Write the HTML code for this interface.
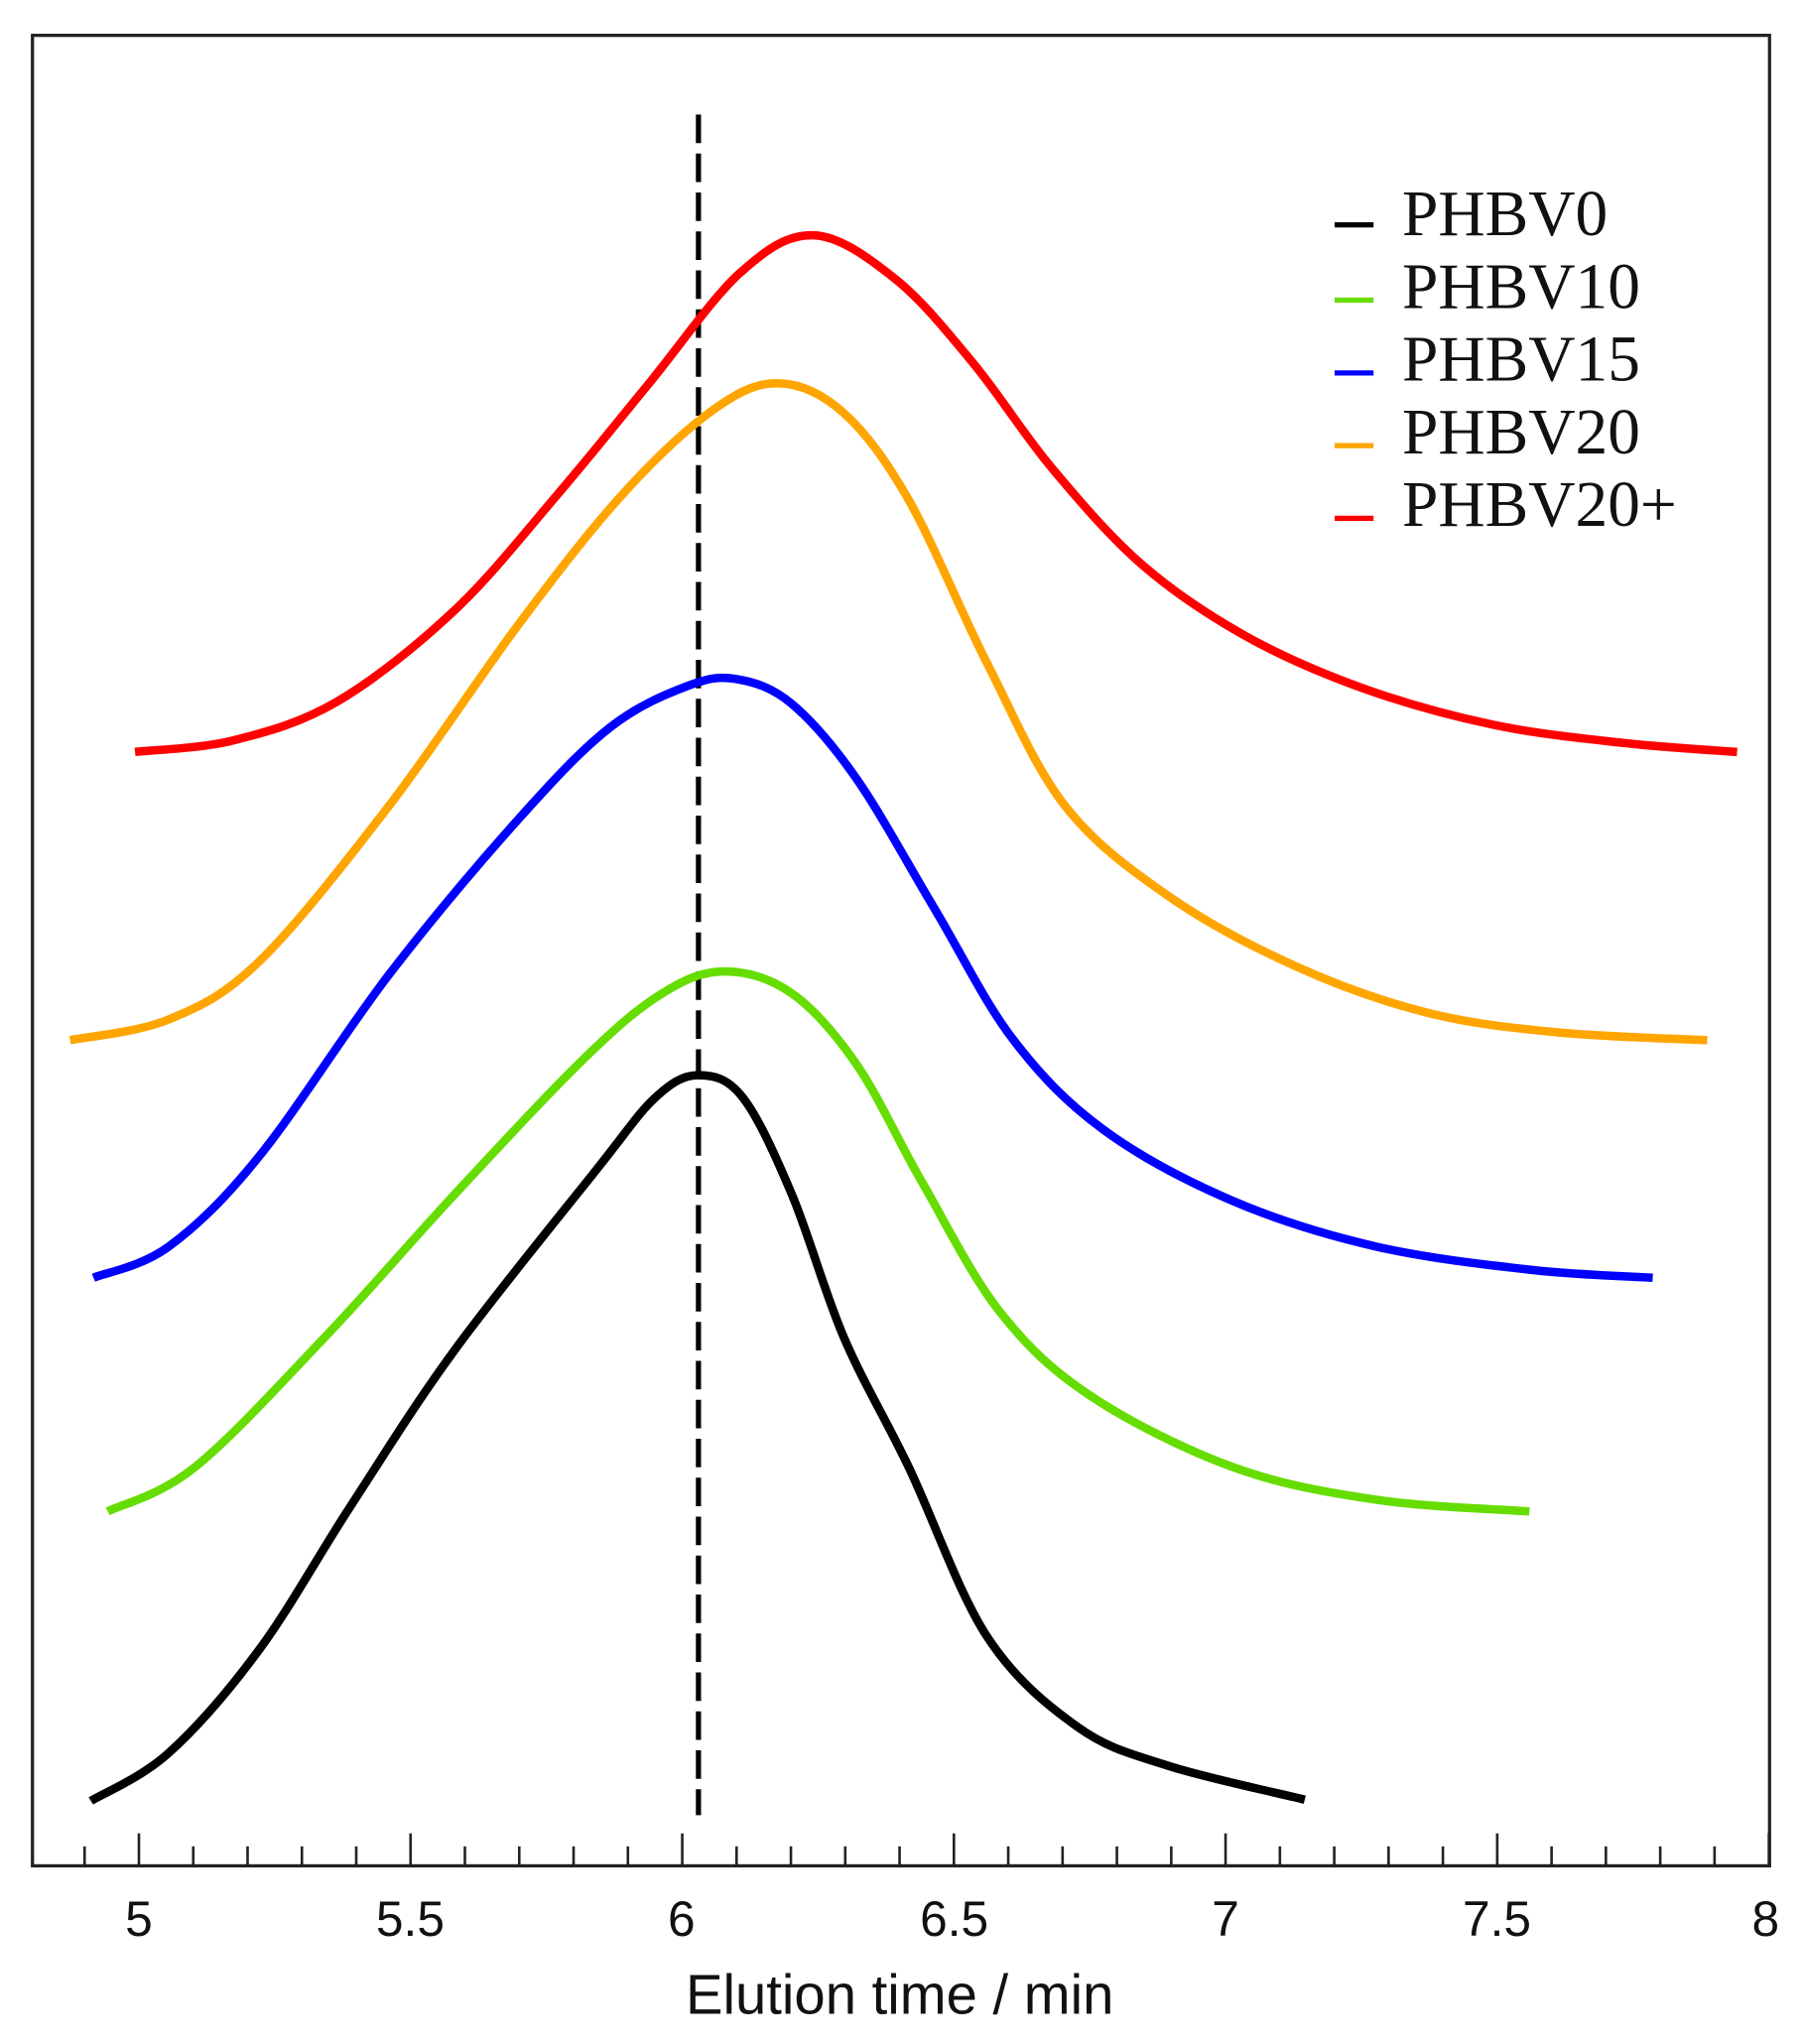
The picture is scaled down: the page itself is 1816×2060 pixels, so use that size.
<!DOCTYPE html>
<html><head><meta charset="utf-8"><style>html,body{margin:0;padding:0;background:#fff}svg{display:block}</style></head>
<body>
<svg id="s" width="1816" height="2060" viewBox="0 0 1388 1574" xmlns="http://www.w3.org/2000/svg">
<rect x="25" y="27" width="1338" height="1410" fill="none" stroke="#222" stroke-width="2.5"/>
<g id="ticks" stroke="#222" stroke-width="2"></g>
<g font-family="Liberation Sans, sans-serif" font-size="38" fill="#111" text-anchor="middle">
<text x="107" y="1491">5</text><text x="316" y="1491">5.5</text><text x="525" y="1491">6</text>
<text x="735" y="1491">6.5</text><text x="944" y="1491">7</text><text x="1153" y="1491">7.5</text><text x="1360" y="1491">8</text>
<text x="693" y="1551" font-size="43">Elution time / min</text>
</g>
<line x1="538" y1="88" x2="538" y2="1398" stroke="#000" stroke-width="4" stroke-dasharray="22,8"/>
<g id="curves" fill="none" stroke-width="6.5" stroke-linecap="butt" stroke-linejoin="round"></g>
<g stroke-width="4">
<line x1="1028" y1="173" x2="1058" y2="173" stroke="#000"/>
<line x1="1028" y1="231" x2="1058" y2="231" stroke="#66dd00"/>
<line x1="1028" y1="287" x2="1058" y2="287" stroke="#0000ff"/>
<line x1="1028" y1="343" x2="1058" y2="343" stroke="#ffa500"/>
<line x1="1028" y1="399" x2="1058" y2="399" stroke="#ff0000"/>
</g>
<g font-family="Liberation Serif, serif" font-size="50" fill="#111">
<text x="1080" y="181">PHBV0</text><text x="1080" y="237">PHBV10</text><text x="1080" y="293">PHBV15</text>
<text x="1080" y="349">PHBV20</text><text x="1080" y="405">PHBV20+</text>
</g>
</svg>
<script>
var NS="http://www.w3.org/2000/svg";
var t=document.getElementById("ticks");
for(var i=-1;i<=30;i++){var x=107+i*41.85;var maj=(i%5==0);var l=document.createElementNS(NS,"line");
l.setAttribute("x1",x);l.setAttribute("x2",x);l.setAttribute("y1",1437);l.setAttribute("y2",maj?1412:1422);t.appendChild(l);}
function cr(p){var d="M"+p[0][0]+","+p[0][1];for(var i=0;i<p.length-1;i++){var p0=p[i-1]||p[i],p1=p[i],p2=p[i+1],p3=p[i+2]||p2;
d+=" C"+(p1[0]+(p2[0]-p0[0])/6)+","+(p1[1]+(p2[1]-p0[1])/6)+" "+(p2[0]-(p3[0]-p1[0])/6)+","+(p2[1]-(p3[1]-p1[1])/6)+" "+p2[0]+","+p2[1];}return d;}
var C=[
["#000",[[70,1387],[130,1350],[200,1270],[270,1160],[350,1040],[460,900],[505,845],[538,828],[572,845],[610,920],[650,1030],[700,1130],[760,1260],[830,1330],[900,1360],[1005,1386]]],
["#66dd00",[[83,1164],[150,1130],[250,1030],[350,920],[450,815],[510,765],[558,748],[610,765],[660,820],[710,910],[770,1010],[840,1075],[950,1130],[1060,1155],[1178,1164]]],
["#0000ff",[[72,984],[130,960],[200,890],[300,750],[400,630],[470,560],[530,528],[568,523],[610,542],[660,600],[720,700],[780,800],[850,870],[950,925],[1060,960],[1180,978],[1273,984]]],
["#ffa500",[[54,801],[130,785],[200,740],[300,620],[400,480],[480,380],[550,315],[600,295],[650,318],[700,385],[760,510],[820,620],[900,690],[1000,745],[1100,780],[1200,795],[1315,801]]],
["#ff0000",[[104,579],[180,570],[260,540],[350,470],[430,380],[500,295],[570,210],[627,181],[690,215],[750,280],[810,360],[880,435],[960,490],[1050,530],[1150,558],[1250,572],[1338,579]]]];
var g=document.getElementById("curves");
C.forEach(function(c){var p=document.createElementNS(NS,"path");p.setAttribute("d",cr(c[1]));p.setAttribute("stroke",c[0]);g.appendChild(p);});
</script>
</body></html>
